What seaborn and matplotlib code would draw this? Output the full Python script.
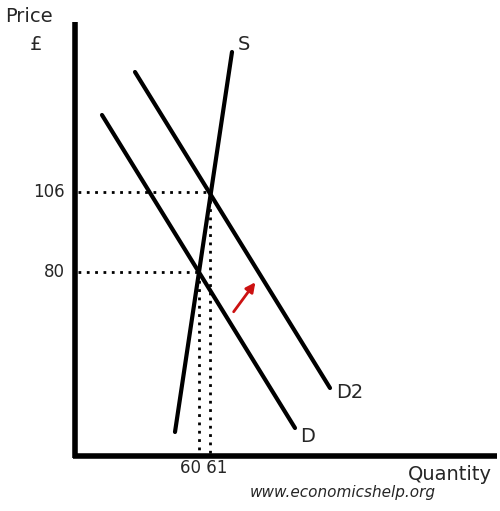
import matplotlib
matplotlib.use("Agg")
import matplotlib.pyplot as plt
import seaborn as sns
import pandas as pd

sns.set_style("white")
plt.rcParams['font.family'] = ['DejaVu Sans']

# Curves in canvas coordinates (x right, y down)
supply_x = [175, 232]; supply_y = [432, 52]
demand_x = [102, 295]; demand_y = [115, 428]
demand2_x = [135, 330]; demand2_y = [72, 388]
price_labels = ["106", "80"]
price_levels = [192, 272]
qty_levels = [210, 199]
qty_label = "60 61"

fig = plt.figure(figsize=(5, 5.11), dpi=100)
ax = fig.add_axes([0, 0, 1, 1])
ax.set_xlim(0, 500); ax.set_ylim(511, 0); ax.axis("off")

for xs, ys in [(supply_x, supply_y), (demand_x, demand_y), (demand2_x, demand2_y)]:
    sns.lineplot(data=pd.DataFrame({"x": xs, "y": ys}), x="x", y="y", ax=ax,
                 color="black", lw=3, sort=False)

ax.plot([75, 75], [22, 458], color="black", lw=4, solid_capstyle="butt")
ax.plot([73, 497], [456, 456], color="black", lw=4, solid_capstyle="butt")

for p, q, lab in zip(price_levels, qty_levels, price_labels):
    ax.plot([78, q], [p, p], color="black", lw=2, ls=(0, (1, 2)))
    ax.plot([q, q], [p, 455], color="black", lw=2, ls=(0, (1, 2)))
    ax.text(65, p, lab, ha="right", va="center", fontsize=12)

ax.text(5, 16, "Price", fontsize=14, va="center")
ax.text(30, 45, "£", fontsize=14, va="center")
ax.text(238, 44, "S", fontsize=14, va="center")
ax.text(300, 436, "D", fontsize=14, va="center")
ax.text(336, 392, "D2", fontsize=14, va="center")
ax.text(204, 468, qty_label, fontsize=12, ha="center", va="center")
ax.text(408, 474, "Quantity", fontsize=14, va="center")
ax.text(250, 493, "www.economicshelp.org", fontsize=11, style="italic", va="center")
ax.annotate("", xy=(257, 280), xytext=(232, 314),
            arrowprops=dict(arrowstyle="-|>", color="#cc1111", lw=2, mutation_scale=14))

fig.savefig("out.png", dpi=100)
